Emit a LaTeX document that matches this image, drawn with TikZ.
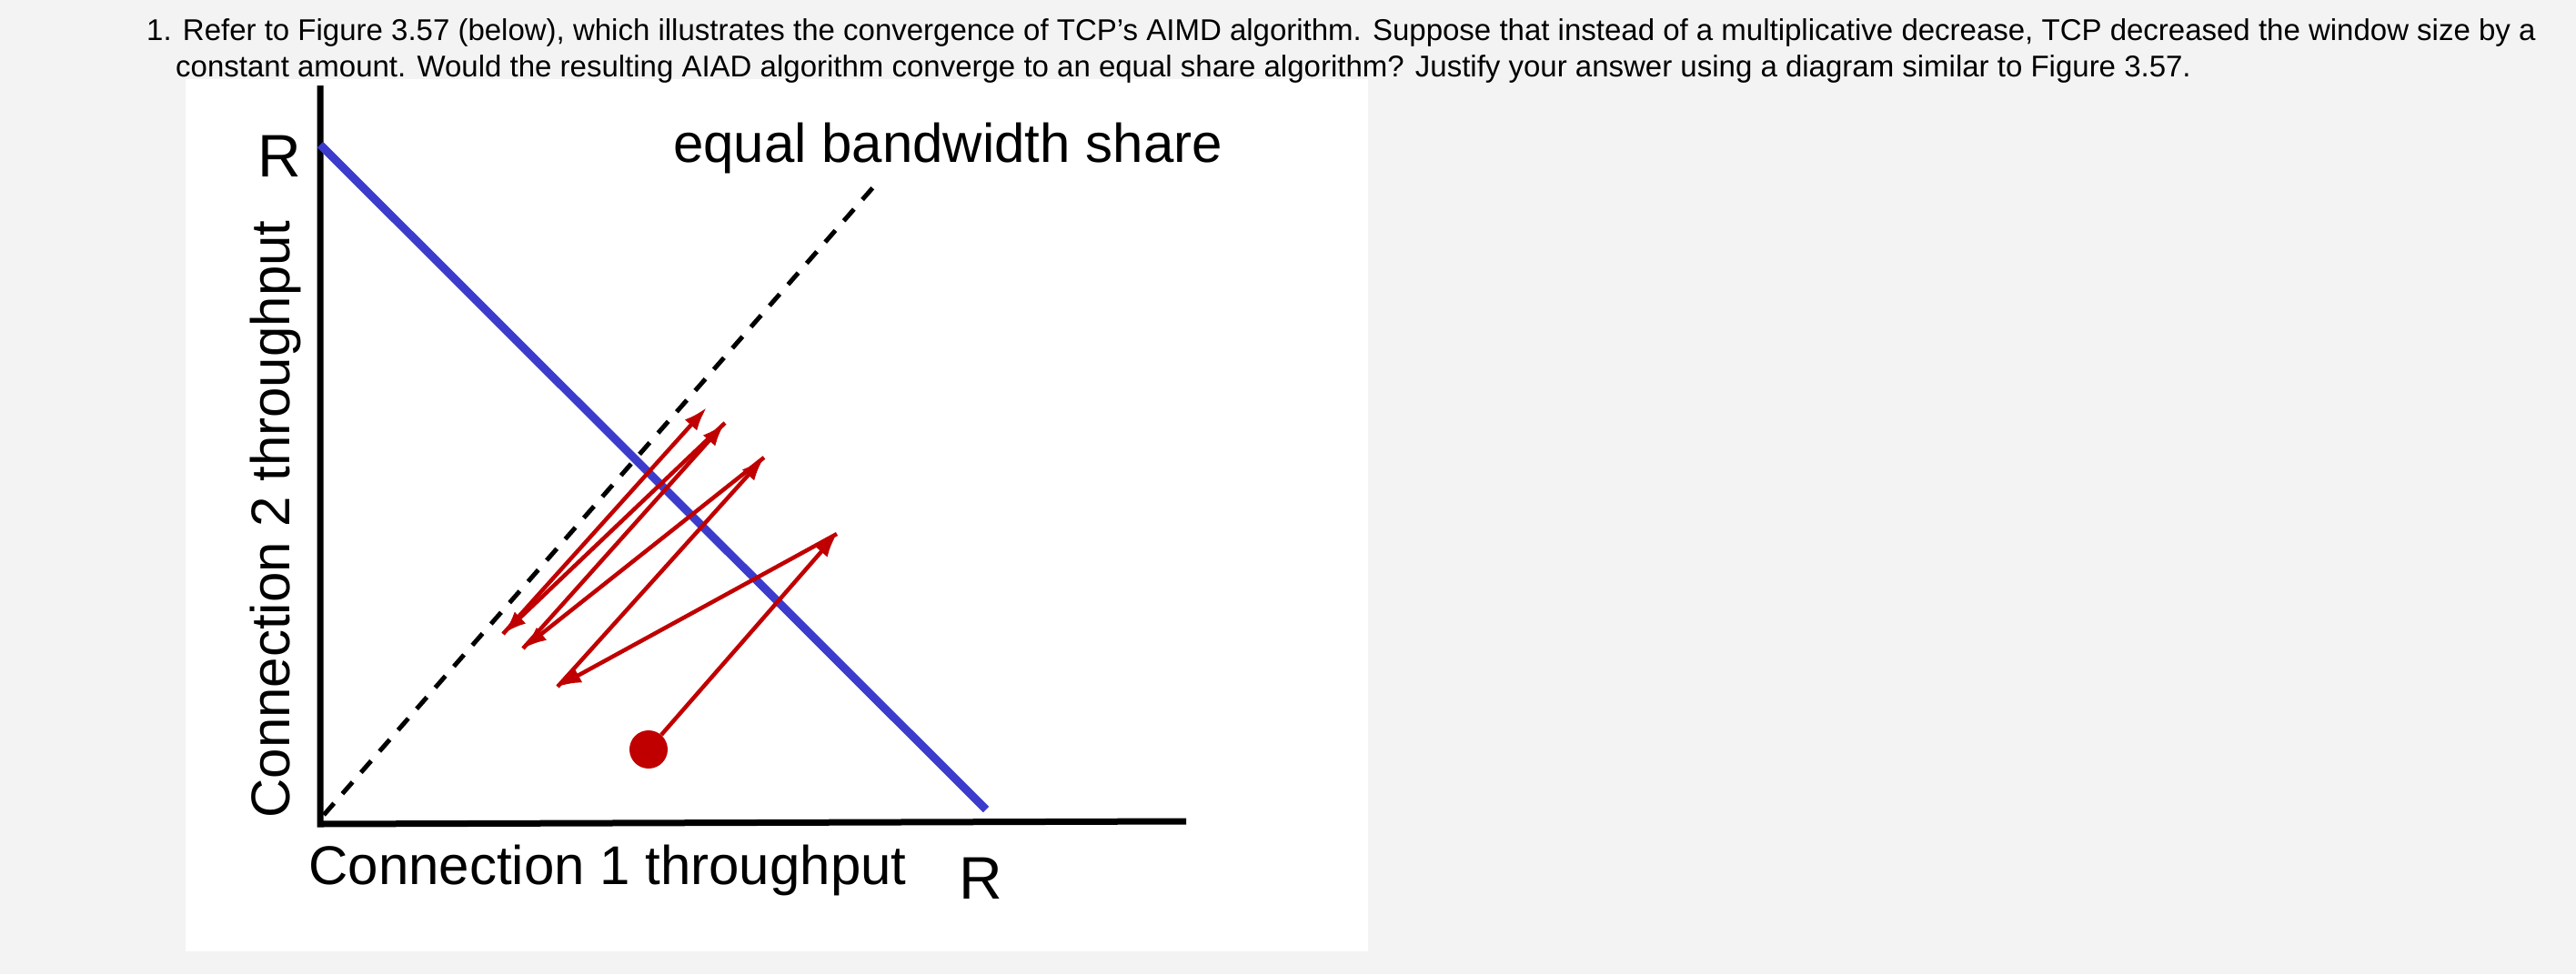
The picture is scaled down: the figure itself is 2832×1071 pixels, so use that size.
\documentclass[tikz,border=0pt]{standalone}
\usepackage{fontspec}
\setmainfont{Liberation Sans}
\usetikzlibrary{arrows.meta}
\definecolor{bg}{HTML}{F3F3F3}
\definecolor{blueln}{HTML}{3C3CCC}
\definecolor{redln}{HTML}{C00000}
\begin{document}
\begin{tikzpicture}[x=1pt,y=-1pt,
  hdr/.style={anchor=west,inner sep=0pt,font=\fontsize{33}{38}\selectfont},
  lbl/.style={inner sep=0pt,font=\fontsize{60}{66}\selectfont},
  arr/.style={redln,line width=4.5pt,-{Latex[length=26pt,width=18pt]}}]
\fill[bg] (0,0) rectangle (2832,1071);
\useasboundingbox (0,0) rectangle (2832,1071);
\fill[white] (204,87) rectangle (1504,1046);
\node[hdr] (l1) at (161,36) {1. Refer to Figure 3.57 (below), which illustrates the convergence of TCP’s AIMD algorithm. Suppose that instead of a multiplicative decrease, TCP decreased the window size by a};
\node[hdr] (l2) at (193,76) {constant amount. Would the resulting AIAD algorithm converge to an equal share algorithm? Justify your answer using a diagram similar to Figure 3.57.};
% axes
\coordinate (o) at (352,903);
\coordinate (ytop) at (352,94);
\coordinate (xend) at (1304,903);
\draw[line width=7pt] (ytop) -- (352,906) -- (xend);
% blue
\coordinate (b1) at (352,159);
\coordinate (b2) at (1084,890);
\draw[blueln,line width=9pt] (b1) -- (b2);
% dashed
\coordinate (d1) at (356,896);
\coordinate (d2) at (966,199);
\draw[black,line width=5pt,dash pattern=on 17pt off 14pt] (d1) -- (d2);
% labels
\node[lbl,font=\fontsize{66}{70}\selectfont] (ry) at (307,172) {R};
\node[lbl] (eq) at (1042,163) {equal bandwidth share};
\node[lbl,rotate=90] (c2) at (303,571) {Connection 2 throughput};
\node[lbl] (c1) at (668,957) {Connection 1 throughput};
\node[lbl,font=\fontsize{66}{70}\selectfont] (rx) at (1078,966) {R};
% trajectory
\node[circle,fill=redln,minimum size=42pt,inner sep=0pt] (dot) at (713,824) {};
\coordinate (a1) at (920,587);
\coordinate (p1) at (613,755);
\coordinate (a2) at (840,503);
\coordinate (p2) at (575,713);
\coordinate (a3) at (797,465);
\coordinate (p3) at (553,697);
\coordinate (a4) at (777,448);
\draw[arr] (dot) -- (a1);
\draw[arr] (a1) -- (p1);
\draw[arr] (p1) -- (a2);
\draw[arr] (a2) -- (p2);
\draw[arr] (p2) -- (a3);
\draw[arr] (a3) -- (p3);
\draw[arr] (p3) -- (a4);
\end{tikzpicture}
\end{document}
